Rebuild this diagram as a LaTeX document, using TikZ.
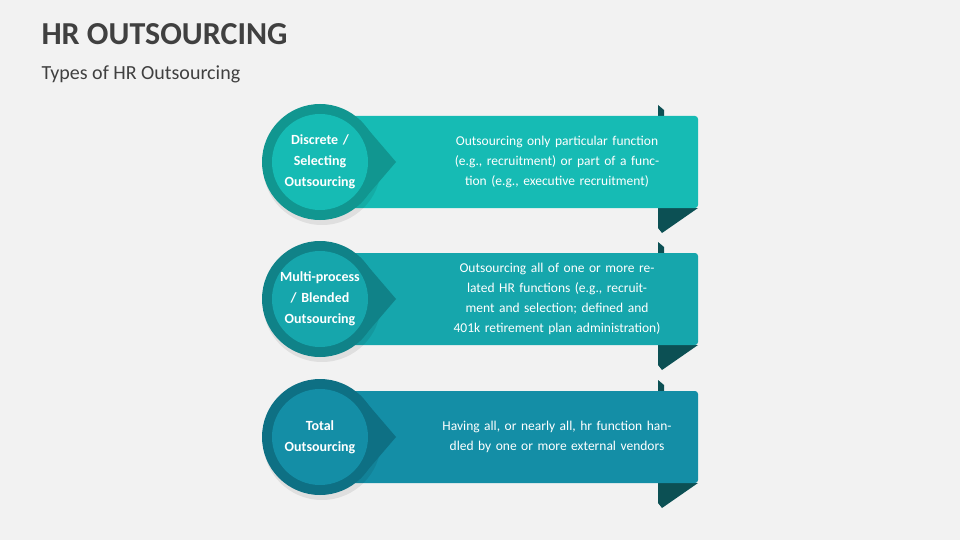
\documentclass[tikz,border=0pt]{standalone}
\usepackage{fontspec}
\setmainfont{Carlito}
\definecolor{bg}{RGB}{242,242,242}
\definecolor{ttl}{RGB}{64,64,64}
\definecolor{bA}{RGB}{22,187,180}
\definecolor{cA}{RGB}{17,150,144}
\definecolor{bB}{RGB}{22,166,172}
\definecolor{cB}{RGB}{16,130,136}
\definecolor{bC}{RGB}{20,142,166}
\definecolor{cC}{RGB}{14,112,132}
\definecolor{fold}{RGB}{12,80,84}
\begin{document}
\begin{tikzpicture}[x=1pt,y=-1pt,
  circtxt/.style={text=white,font=\bfseries\fontsize{14}{21}\selectfont,align=center,text width=90pt},
  desctxt/.style={text=white,font=\fontsize{13.5}{20}\selectfont,align=center,text width=250pt}]
\fill[bg] (0,0) rectangle (960,540);
\useasboundingbox (0,0) rectangle (960,540);
\node[anchor=west,text=ttl,font=\bfseries\fontsize{32}{36}\selectfont] (title) at (38,34) {HR OUTSOURCING};
\node[anchor=west,text=ttl,font=\fontsize{20}{24}\selectfont] (sub) at (38,74) {Types of HR Outsourcing};
\foreach \yc/\bcol/\ccol/\nm in {162/bA/cA/a,299/bB/cB/b,437/bC/cC/c}{
  \fill[fold] (658,\yc-57) -- (664,\yc-52) -- (664,\yc+46) -- (698,\yc+46) -- (662,\yc+71) -- (658,\yc+66) -- cycle;
  \fill[\bcol, rounded corners=3pt] (330,\yc-46) rectangle (698,\yc+46);
  \fill[black,opacity=0.08] (322,\yc+4) circle (59);
  \fill[\ccol] (320,\yc) circle (58);
  \fill[\ccol] (360,\yc-42) -- (396,\yc) -- (360,\yc+42) -- cycle;
  \fill[\bcol] (320,\yc) circle (48);
}
\node[circtxt] (n1) at (320,162) {Discrete /\\Selecting\\Outsourcing};
\node[desctxt] (d1) at (557,162) {Outsourcing only particular function (e.g., recruitment) or part of a function (e.g., executive recruitment)};
\node[circtxt] (n2) at (320,299) {Multi-process\\/ Blended\\Outsourcing};
\node[desctxt] (d2) at (557,299) {Outsourcing all of one or more related HR functions (e.g., recruitment and selection; defined and 401k retirement plan administration)};
\node[circtxt] (n3) at (320,437) {Total\\Outsourcing};
\node[desctxt,text width=230pt] (d3) at (557,437) {Having all, or nearly all, hr function handled by one or more external vendors};
\end{tikzpicture}
\end{document}
